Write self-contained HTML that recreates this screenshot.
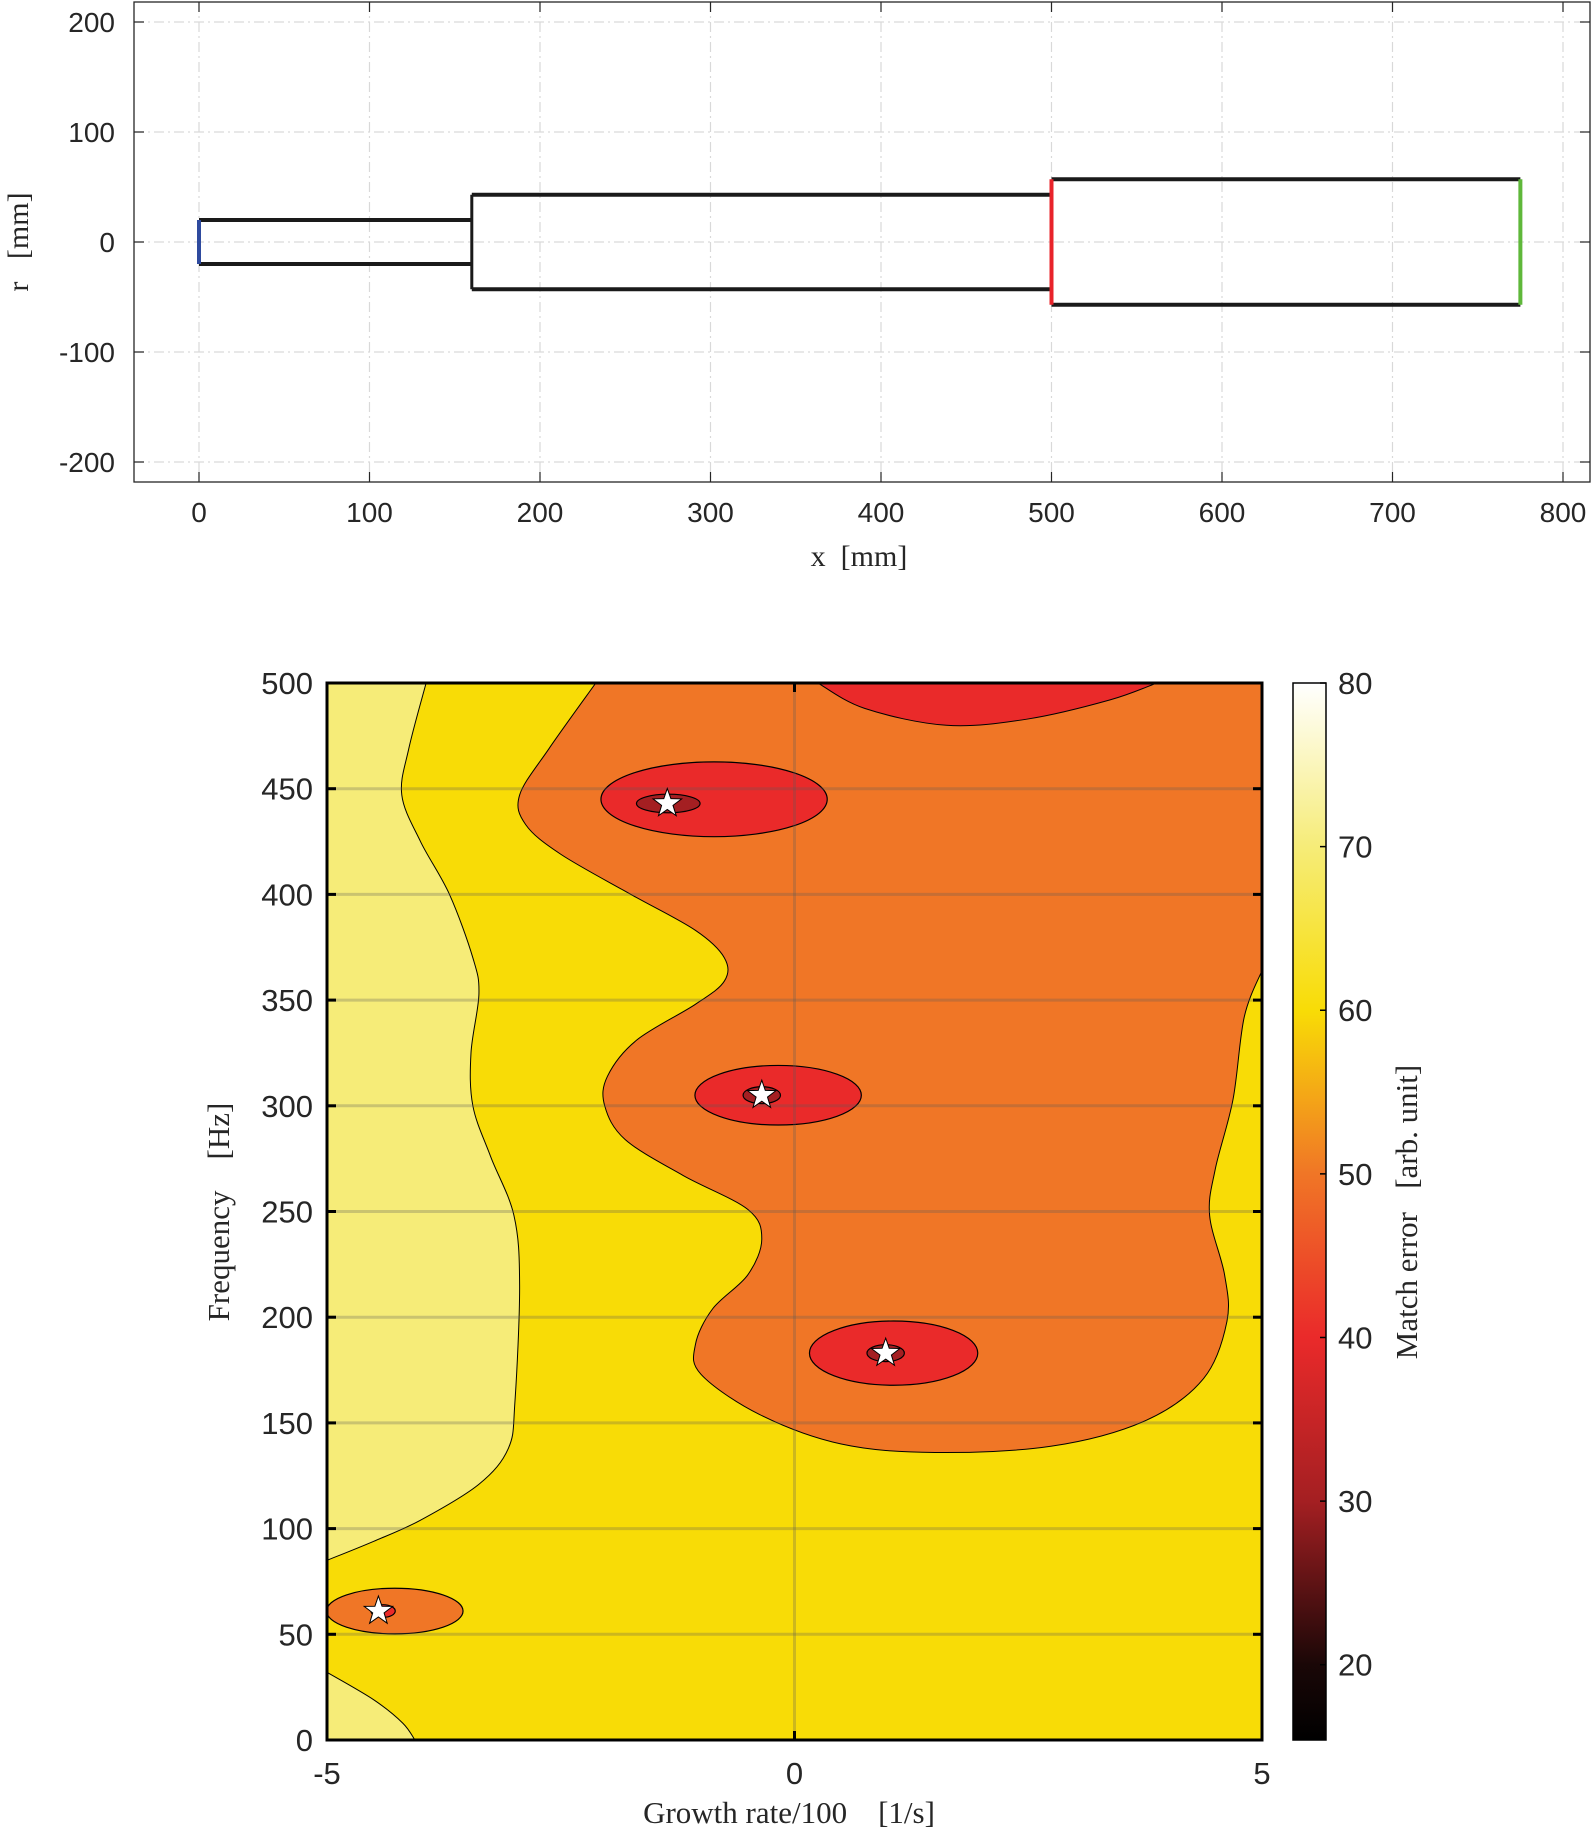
<!DOCTYPE html>
<html><head><meta charset="utf-8"><style>
html,body{margin:0;padding:0;background:#fff;}
svg{display:block;}
.tk{font-family:"Liberation Sans",sans-serif;fill:#262626;}
.lb{font-family:"Liberation Serif",serif;fill:#262626;white-space:pre;}
</style></head><body>
<svg id="svg" width="1592" height="1829" viewBox="0 0 1592 1829" xmlns="http://www.w3.org/2000/svg">
<g id="top"></g>
<g id="bot"></g>
</svg>
<script>
// ---- top chart data ----
const geoXTicks=[0,100,200,300,400,500,600,700,800];
const geoYTicks=[200,100,0,-100,-200];
const sectionX=[0,160,500,775];
const sectionR=[20,43,57];
// ---- bottom chart data ----
const freqTicks=[0,50,100,150,200,250,300,350,400,450,500];
const growthTicks=[-5,0,5];
const cbTicks=[20,30,40,50,60,70,80];
const lightRegion=[[-3.94,500],[-4.125,469],[-4.2,447],[-4.0,425],[-3.69,400],[-3.44,370],[-3.375,353],[-3.46,325],[-3.44,300],[-3.25,276],[-3.0,248],[-2.94,215],[-2.99,160],[-3.06,138],[-3.375,121],[-4.0,104],[-4.5,94],[-5,85]];
const lightCorner=[[-5,32],[-4.5,19],[-4.19,8],[-4.06,0]];
const orangeRegion=[[-2.125,500],[-2.625,469],[-2.94,447],[-2.875,433],[-2.5,419],[-1.75,400],[-1.06,383],[-0.75,370],[-0.75,359],[-1.06,348],[-1.69,331],[-2.0,314],[-2.03,300],[-1.81,284],[-1.19,267],[-0.5,251],[-0.35,237],[-0.5,220],[-0.875,204],[-1.06,187],[-1.0,173],[-0.375,154],[0.5,140],[1.5,136],[2.75,139],[3.75,151],[4.375,171],[4.625,198],[4.6,220],[4.44,248],[4.5,270],[4.69,303],[4.81,342],[5,364]];
const redTop=[[0.25,500],[0.75,488],[1.625,480],[2.5,483],[3.375,492],[3.875,500]];
// ellipses: [cx, cy, rx, ry, level]
const ellipses=[[-4.275,61,0.73,10.8,50],[-4.4,61,0.13,3,40],[-0.86,445,1.21,17.7,40],[-1.35,443,0.34,4.4,30],[-0.175,305,0.89,14.1,40],[-0.35,305,0.2,4,30],[1.06,183,0.9,15.2,40],[0.975,183,0.2,4,30]];
const minimaX=[-4.45,-1.36,-0.35,0.975];
const minimaF=[61,443,305,183];

const NS="http://www.w3.org/2000/svg";
function mk(tag,attrs,parent){const e=document.createElementNS(NS,tag);for(const k in attrs)e.setAttribute(k,attrs[k]);parent.appendChild(e);return e;}
function smooth(pts){let d="M"+pts[0][0]+","+pts[0][1];for(let i=0;i<pts.length-1;i++){const p0=pts[Math.max(0,i-1)],p1=pts[i],p2=pts[i+1],p3=pts[Math.min(pts.length-1,i+2)];const c1=[p1[0]+(p2[0]-p0[0])/6,p1[1]+(p2[1]-p0[1])/6],c2=[p2[0]-(p3[0]-p1[0])/6,p2[1]-(p3[1]-p1[1])/6];d+=` C${c1[0]},${c1[1]} ${c2[0]},${c2[1]} ${p2[0]},${p2[1]}`;}return d;}

// ---- top chart ----
const T=document.getElementById('top');
const tL=134,tR=1590,tT=2,tB=482;
const gx=v=>199+(v)*1.705, gy=v=>242-v*1.1;
mk('rect',{x:tL,y:tT,width:tR-tL,height:tB-tT,fill:'#fff',stroke:'none'},T);
geoXTicks.forEach(v=>{const l=mk('line',{x1:gx(v),x2:gx(v),y1:tT,y2:tB,stroke:'#d9d9d9','stroke-width':1.2,'stroke-dasharray':'10,4,2,4'},T);
 const t=mk('text',{x:gx(v),y:522,'text-anchor':'middle','font-size':28,class:'tk'},T);t.textContent=v;
 mk('line',{x1:gx(v),x2:gx(v),y1:tB,y2:tB-10,stroke:'#262626','stroke-width':1.2},T);mk('line',{x1:gx(v),x2:gx(v),y1:tT,y2:tT+10,stroke:'#262626','stroke-width':1.2},T);});
geoYTicks.forEach(v=>{const l=mk('line',{x1:tL,x2:tR,y1:gy(v),y2:gy(v),stroke:'#d9d9d9','stroke-width':1.2,'stroke-dasharray':'10,4,2,4'},T);
 const t=mk('text',{x:115,y:gy(v)+10,'text-anchor':'end','font-size':28,class:'tk'},T);t.textContent=v;
 mk('line',{x1:tL,x2:tL+10,y1:gy(v),y2:gy(v),stroke:'#262626','stroke-width':1.2},T);mk('line',{x1:tR,x2:tR-10,y1:gy(v),y2:gy(v),stroke:'#262626','stroke-width':1.2},T);});
mk('rect',{x:tL,y:tT,width:tR-tL,height:tB-tT,fill:'none',stroke:'#262626','stroke-width':1.3},T);
for(let i=0;i<sectionR.length;i++){
 [1,-1].forEach(s=>{const w=mk('line',{x1:gx(sectionX[i]),x2:gx(sectionX[i+1]),y1:gy(s*sectionR[i]),y2:gy(s*sectionR[i]),stroke:'#1a1a1a','stroke-width':4},T);});
 if(i>0){const st=mk('line',{x1:gx(sectionX[i]),x2:gx(sectionX[i]),y1:gy(sectionR[i]),y2:gy(-sectionR[i]),stroke:i==2?'#e8232a':'#1a1a1a','stroke-width':i==2?4:3},T);}
}
const inl=mk('line',{x1:gx(sectionX[0]),x2:gx(sectionX[0]),y1:gy(sectionR[0]),y2:gy(-sectionR[0]),stroke:'#2e4a9e','stroke-width':4},T);
const outl=mk('line',{x1:gx(sectionX[3]),x2:gx(sectionX[3]),y1:gy(sectionR[2]),y2:gy(-sectionR[2]),stroke:'#5fb83a','stroke-width':4},T);
let t1=mk('text',{x:859,y:566,'text-anchor':'middle','font-size':30,class:'lb'},T);t1.textContent='x  [mm]';
let t2=mk('text',{x:0,y:0,'text-anchor':'middle','font-size':30,class:'lb',transform:'translate(28,242) rotate(-90)'},T);t2.textContent='r   [mm]';

// ---- bottom chart ----
const B=document.getElementById('bot');
const bL=327,bR=1262,bT=683,bBt=1740;
const sx=v=>bL+(v+5)/10*(bR-bL), sy=v=>bBt-v/500*(bBt-bT);
const P=a=>a.map(p=>[sx(p[0]),sy(p[1])]);
const col={80:'#ffffff',70:'#f6ec78',60:'#f8dc06',50:'#f07626',40:'#ea2a2a',30:'#a41f22',20:'#1a0707'};
const clip=mk('clipPath',{id:'plotclip'},mk('defs',{},B));mk('rect',{x:bL,y:bT,width:bR-bL,height:bBt-bT},clip);
const G=mk('g',{'clip-path':'url(#plotclip)'},B);
const bg=mk('rect',{x:bL,y:bT,width:bR-bL,height:bBt-bT,fill:col[60]},G);
let lp=P(lightRegion);let d=smooth(lp)+` L${sx(-5)},${sy(500)} Z`;
let r=mk('path',{d:d,fill:col[70],stroke:'#000','stroke-width':1},G);
d=smooth(P(lightCorner))+` L${sx(-5)},${sy(0)} Z`;
r=mk('path',{d:d,fill:col[70],stroke:'#000','stroke-width':1},G);
d=smooth(P(orangeRegion))+` L${sx(5)},${sy(500)} Z`;
r=mk('path',{d:d,fill:col[50],stroke:'#000','stroke-width':1},G);
d=smooth(P(redTop))+' Z';
r=mk('path',{d:d,fill:col[40],stroke:'#000','stroke-width':1},G);
ellipses.forEach(e=>{const el=mk('ellipse',{cx:sx(e[0]),cy:sy(e[1]),rx:e[2]/10*(bR-bL),ry:e[3]/500*(bBt-bT),fill:col[e[4]],stroke:'#000','stroke-width':1.2},G);});
freqTicks.forEach(v=>{const l=mk('line',{x1:bL,x2:bR,y1:sy(v),y2:sy(v),stroke:'rgba(90,90,90,0.28)','stroke-width':3},G);});
growthTicks.forEach(v=>{const l=mk('line',{x1:sx(v),x2:sx(v),y1:bT,y2:bBt,stroke:'rgba(90,90,90,0.28)','stroke-width':3},G);});
minimaX.forEach((x,i)=>{const cx=sx(x),cy=sy(minimaF[i]);let pts=[];for(let k=0;k<10;k++){const a=-Math.PI/2+k*Math.PI/5,rr=k%2?6:15;pts.push((cx+rr*Math.cos(a)).toFixed(1)+','+(cy+rr*Math.sin(a)).toFixed(1));}
 const s=mk('polygon',{points:pts.join(' '),fill:'#fff',stroke:'#000','stroke-width':1},B);});
freqTicks.forEach(v=>{mk('line',{x1:bL,x2:bL+9,y1:sy(v),y2:sy(v),stroke:'#000','stroke-width':3},B);mk('line',{x1:bR,x2:bR-9,y1:sy(v),y2:sy(v),stroke:'#000','stroke-width':3},B);
 const t=mk('text',{x:313,y:sy(v)+11,'text-anchor':'end','font-size':31,class:'tk'},B);t.textContent=v;});
growthTicks.forEach(v=>{mk('line',{x1:sx(v),x2:sx(v),y1:bBt,y2:bBt-9,stroke:'#000','stroke-width':3},B);mk('line',{x1:sx(v),x2:sx(v),y1:bT,y2:bT+9,stroke:'#000','stroke-width':3},B);
 const t=mk('text',{x:sx(v),y:1784,'text-anchor':'middle','font-size':31,class:'tk'},B);t.textContent=v;});
mk('rect',{x:bL,y:bT,width:bR-bL,height:bBt-bT,fill:'none',stroke:'#000','stroke-width':3},B);
let bx=mk('text',{x:789,y:1823,'text-anchor':'middle','font-size':31,class:'lb'},B);bx.textContent='Growth rate/100    [1/s]';
let by=mk('text',{x:0,y:0,'text-anchor':'middle','font-size':31,class:'lb',transform:'translate(229,1212) rotate(-90)'},B);by.textContent='Frequency    [Hz]';
const cL=1293,cR=1326,cMin=15.4,cMax=80;const cy=v=>bBt-(v-cMin)/(cMax-cMin)*(bBt-bT);
const grad=mk('linearGradient',{id:'cbg',x1:0,y1:1,x2:0,y2:0},B.querySelector('defs'));
[[15.4,'#000000'],[20,'#1a0707'],[30,'#a41f22'],[40,'#ea2a2a'],[50,'#f07626'],[60,'#f8dc06'],[70,'#f6ec78'],[80,'#ffffff']].forEach(s=>mk('stop',{offset:((s[0]-cMin)/(cMax-cMin)).toFixed(3),'stop-color':s[1]},grad));
const cb=mk('rect',{x:cL,y:bT,width:cR-cL,height:bBt-bT,fill:'url(#cbg)',stroke:'#000','stroke-width':1.5},B);
cbTicks.forEach(v=>{mk('line',{x1:cR,x2:cR-6,y1:cy(v),y2:cy(v),stroke:'#000','stroke-width':1.5},B);
 const t=mk('text',{x:1338,y:cy(v)+11,'font-size':31,class:'tk'},B);t.textContent=v;});
let ct=mk('text',{x:0,y:0,'text-anchor':'middle','font-size':31,class:'lb',transform:'translate(1417,1212) rotate(-90)'},B);ct.textContent='Match error   [arb. unit]';
</script>
</body></html>
